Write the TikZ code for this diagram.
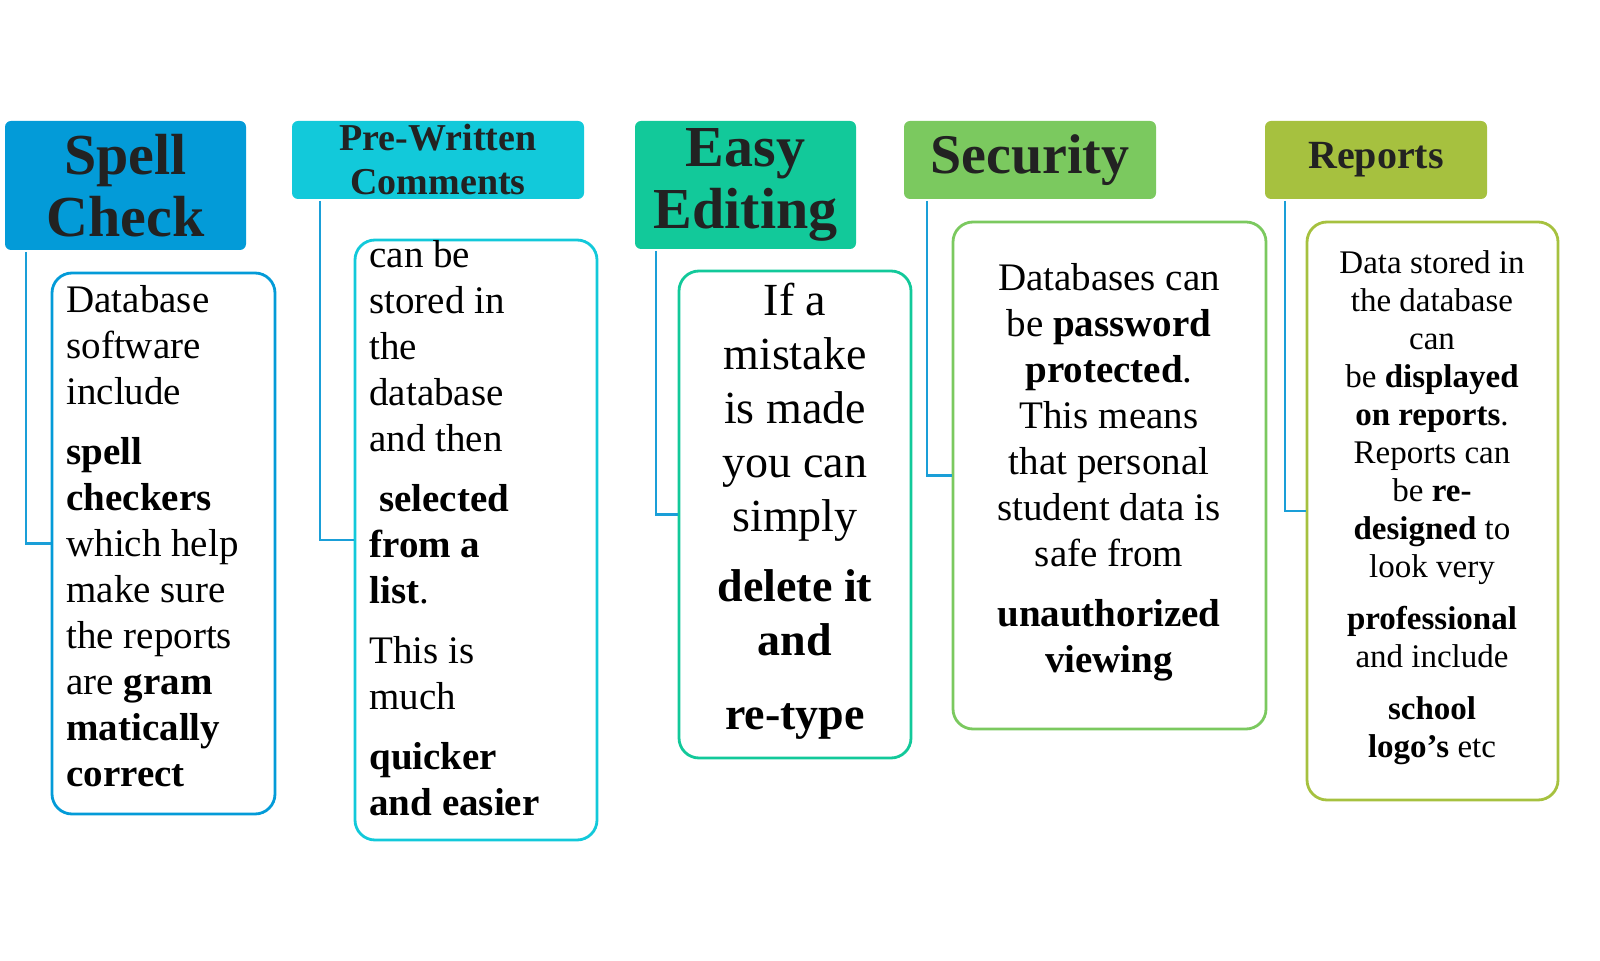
\documentclass[tikz,border=0pt]{standalone}
\usepackage{fontspec}
\setmainfont{Liberation Serif}
\definecolor{cA}{HTML}{039BD8}
\definecolor{cB}{HTML}{12C9DA}
\definecolor{cC}{HTML}{12C99A}
\definecolor{cD}{HTML}{7BC95F}
\definecolor{cE}{HTML}{A6C13F}
\definecolor{ink}{HTML}{222222}
\definecolor{line}{HTML}{1A9FD8}
\begin{document}
\begin{tikzpicture}[x=0.5pt,y=-0.5pt,
 head/.style={fill=#1,rounded corners=3pt,inner sep=0pt,text=ink,font=\bfseries,align=center},
 body/.style={draw=#1,line width=1.4pt,rounded corners=10pt,fill=white,inner sep=0pt},
 txt/.style={text=black,inner sep=0pt},
 conn/.style={draw=line,line width=1.4pt}]
% headers
\node[head=cA,minimum width=120.5pt,minimum height=64.5pt,font=\bfseries\fontsize{29}{31}\selectfont] (h1) at (125.5,185.5) {Spell\\Check};
\node[head=cB,minimum width=146pt,minimum height=39pt,font=\bfseries\fontsize{19}{22}\selectfont] (h2) at (438,160) {Pre-Written\\Comments};
\node[head=cC,minimum width=110.5pt,minimum height=64pt,font=\bfseries\fontsize{29}{31}\selectfont] (h3) at (745.5,185) {Easy\\Editing};
\node[head=cD,minimum width=126pt,minimum height=39pt,font=\bfseries\fontsize{28}{30}\selectfont] (h4) at (1030,160) {Security};
\node[head=cE,minimum width=111pt,minimum height=39pt,font=\bfseries\fontsize{20}{22}\selectfont] (h5) at (1376,160) {Reports};
% bodies
\node[body=cA,minimum width=111.5pt,minimum height=270.5pt] (b1) at (163.5,543.5) {};
\node[body=cB,minimum width=121pt,minimum height=300pt] (b2) at (476,540) {};
\node[body=cC,minimum width=116pt,minimum height=243.5pt] (b3) at (795,514.5) {};
\node[body=cD,minimum width=156.5pt,minimum height=253.5pt] (b4) at (1109.5,475.5) {};
\node[body=cE,minimum width=125.5pt,minimum height=289pt] (b5) at (1432.5,511) {};
% connectors
\coordinate (c1) at (26,252);
\coordinate (c2) at (320,201);
\coordinate (c3) at (656,251);
\coordinate (c4) at (927,201);
\coordinate (c5) at (1285,201);
\draw[conn] (c1) |- (b1.west);
\draw[conn] (c2) |- (b2.west);
\draw[conn] (c3) |- (b3.west);
\draw[conn] (c4) |- (b4.west);
\draw[conn] (c5) |- (b5.west);
% texts
\node[txt,anchor=north west,align=left,font=\fontsize{19.5}{23}\selectfont] (t1) at (66,285)
{Database\\ software\\ include\\[7pt]
\textbf{spell}\\ \textbf{checkers}\\ which help\\ make sure\\ the reports\\ are \textbf{gram}\\ \textbf{matically}\\ \textbf{correct}};
\node[txt,anchor=north west,align=left,font=\fontsize{19.5}{23}\selectfont] (t2) at (369,240)
{can be\\ stored in\\ the\\ database\\ and then\\[7pt]
\textbf{\ selected}\\ \textbf{from a}\\ \textbf{list}.\\[7pt]
This is\\ much\\[7pt]
\textbf{quicker}\\ \textbf{and easier}};
\node[txt,anchor=north,align=center,font=\fontsize{23}{27}\selectfont] (t3) at (795,283)
{If a\\ mistake\\ is made\\ you can\\ simply\\[8pt]
\textbf{delete it}\\ \textbf{and}\\[10pt]
\textbf{re-type}};
\node[txt,anchor=north,align=center,font=\fontsize{19.5}{23}\selectfont] (t4) at (1109,263)
{Databases can\\ be \textbf{password}\\ \textbf{protected}.\\ This means\\ that personal\\ student data is\\ safe from\\[7pt]
\textbf{unauthorized}\\ \textbf{viewing}};
\node[txt,anchor=north,align=center,font=\fontsize{16.5}{19}\selectfont] (t5) at (1432,250)
{Data stored in\\ the database\\ can\\ be \textbf{displayed}\\ \textbf{on reports}.\\ Reports can\\ be \textbf{re-}\\ \textbf{designed} to\\ look very\\[7pt]
\textbf{professional}\\ and include\\[7pt]
\textbf{school}\\ \textbf{logo's} etc};
\pgfresetboundingbox
\useasboundingbox (0,0) rectangle (1600,961);
\end{tikzpicture}
\end{document}
